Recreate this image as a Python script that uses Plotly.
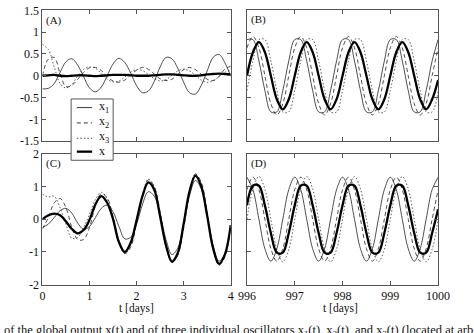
import plotly.graph_objects as go

W, H = 474, 333

# ---------------- data ----------------
t_early = [0.0, 0.125, 0.25, 0.375, 0.5, 0.625, 0.75, 0.875, 1.0, 1.125, 1.25, 1.375,
           1.5, 1.625, 1.75, 1.875, 2.0, 2.125, 2.25, 2.375, 2.5, 2.625, 2.75, 2.875,
           3.0, 3.125, 3.25, 3.375, 3.5, 3.625, 3.75, 3.875, 4.0]
t_late = [996.0, 996.125, 996.25, 996.375, 996.5, 996.625, 996.75, 996.875,
          997.0, 997.125, 997.25, 997.375, 997.5, 997.625, 997.75, 997.875,
          998.0, 998.125, 998.25, 998.375, 998.5, 998.625, 998.75, 998.875,
          999.0, 999.125, 999.25, 999.375, 999.5, 999.625, 999.75, 999.875, 1000.0]

# Panel A
A_x1 = [-0.30, -0.29, -0.18, 0.08, 0.32, 0.39, 0.24, -0.02, -0.28, -0.37, -0.26, 0.00,
        0.27, 0.40, 0.30, 0.06, -0.23, -0.39, -0.35, -0.13, 0.20, 0.42, 0.39, 0.17,
        -0.15, -0.39, -0.42, -0.22, 0.11, 0.42, 0.49, 0.30, -0.01]
A_x2 = [0.00, 0.38, 0.42, 0.05, -0.25, -0.22, -0.08, 0.08, 0.18, 0.19, 0.12, -0.02,
        -0.12, -0.15, -0.10, 0.02, 0.13, 0.19, 0.15, 0.04, -0.07, -0.11, -0.08, 0.03,
        0.14, 0.19, 0.14, 0.03, -0.08, -0.11, -0.02, 0.15, 0.22]
A_x3 = [0.72, 0.60, 0.20, -0.18, -0.28, -0.20, 0.00, 0.15, 0.20, 0.17, 0.05, -0.08,
        -0.14, -0.12, -0.03, 0.08, 0.14, 0.12, 0.03, -0.07, -0.12, -0.09, 0.01, 0.11,
        0.15, 0.11, 0.01, -0.10, -0.15, -0.12, -0.02, 0.08, 0.12]
A_x = [0.00, 0.01, 0.02, 0.00, -0.01, 0.00, 0.01, 0.01, 0.00, -0.01, 0.00, 0.01,
       0.02, 0.02, 0.02, 0.01, 0.00, 0.00, 0.00, 0.01, 0.02, 0.03, 0.03, 0.02,
       0.01, 0.00, 0.00, 0.01, 0.03, 0.04, 0.05, 0.04, 0.03]

# Panel B
B_x1 = [0.83, 0.83, 0.34, -0.34, -0.83, -0.83, -0.34, 0.34,
        0.83, 0.83, 0.34, -0.34, -0.83, -0.83, -0.34, 0.34,
        0.83, 0.83, 0.34, -0.34, -0.83, -0.83, -0.34, 0.34,
        0.83, 0.83, 0.34, -0.34, -0.83, -0.83, -0.34, 0.34, 0.83]
B_x2 = [0.64, 0.90, 0.64, 0.00, -0.64, -0.90, -0.64, 0.00,
        0.64, 0.90, 0.64, 0.00, -0.64, -0.90, -0.64, 0.00,
        0.64, 0.90, 0.64, 0.00, -0.64, -0.90, -0.64, 0.00,
        0.64, 0.90, 0.64, 0.00, -0.64, -0.90, -0.64, 0.00, 0.64]
B_x3 = [-0.34, 0.34, 0.83, 0.83, 0.34, -0.34, -0.83, -0.83,
        -0.34, 0.34, 0.83, 0.83, 0.34, -0.34, -0.83, -0.83,
        -0.34, 0.34, 0.83, 0.83, 0.34, -0.34, -0.83, -0.83,
        -0.34, 0.34, 0.83, 0.83, 0.34, -0.34, -0.83, -0.83, -0.34]
B_x = [0.00, 0.54, 0.77, 0.54, 0.00, -0.54, -0.77, -0.54,
       0.00, 0.54, 0.77, 0.54, 0.00, -0.54, -0.77, -0.54,
       0.00, 0.54, 0.77, 0.54, 0.00, -0.54, -0.77, -0.54,
       0.00, 0.54, 0.77, 0.54, 0.00, -0.54, -0.77, -0.54, -0.10]

# Panel C
C_x1 = [-0.25, -0.15, 0.05, 0.26, 0.33, 0.18, -0.12, -0.31, -0.22, 0.05, 0.33, 0.43,
        0.22, -0.22, -0.60, -0.55, -0.15, 0.45, 0.84, 0.70, 0.15, -0.62, -1.08, -0.88,
        -0.15, 0.72, 1.18, 0.92, 0.10, -0.80, -1.28, -1.05, -0.25]
C_x2 = [-0.30, 0.05, 0.50, 0.63, 0.35, -0.25, -0.62, -0.62, -0.25, 0.40, 0.78, 0.65,
        0.08, -0.65, -1.05, -0.85, -0.12, 0.70, 1.20, 1.00, 0.22, -0.78, -1.32, -1.10,
        -0.28, 0.78, 1.38, 1.12, 0.22, -0.85, -1.40, -1.15, -0.25]
C_x3 = [0.76, 0.68, 0.70, 0.35, -0.15, -0.58, -0.55, -0.25, 0.15, 0.60, 0.82, 0.62,
        0.02, -0.72, -1.05, -0.78, -0.05, 0.75, 1.22, 0.98, 0.15, -0.85, -1.32, -1.08,
        -0.20, 0.85, 1.38, 1.08, 0.12, -0.92, -1.40, -1.12, -0.18]
C_x = [0.00, 0.12, 0.17, 0.12, -0.07, -0.30, -0.43, -0.33, -0.02, 0.45, 0.70, 0.50,
       0.00, -0.70, -1.00, -0.72, -0.03, 0.70, 1.12, 0.90, 0.08, -0.80, -1.29, -1.03,
       -0.14, 0.85, 1.33, 1.00, 0.10, -0.88, -1.36, -1.08, -0.18]

# Panel D
D_x1 = [1.28, 0.90, 0.00, -0.90, -1.28, -0.90, 0.00, 0.90,
        1.28, 0.90, 0.00, -0.90, -1.28, -0.90, 0.00, 0.90,
        1.28, 0.90, 0.00, -0.90, -1.28, -0.90, 0.00, 0.90,
        1.28, 0.90, 0.00, -0.90, -1.28, -0.90, 0.00, 0.90, 1.28]
D_x2 = [0.90, 1.28, 0.90, 0.00, -0.90, -1.28, -0.90, 0.00,
        0.90, 1.28, 0.90, 0.00, -0.90, -1.28, -0.90, 0.00,
        0.90, 1.28, 0.90, 0.00, -0.90, -1.28, -0.90, 0.00,
        0.90, 1.28, 0.90, 0.00, -0.90, -1.28, -0.90, 0.00, 0.90]
D_x3 = [0.00, 0.92, 1.30, 0.92, 0.00, -0.92, -1.30, -0.92,
        0.00, 0.92, 1.30, 0.92, 0.00, -0.92, -1.30, -0.92,
        0.00, 0.92, 1.30, 0.92, 0.00, -0.92, -1.30, -0.92,
        0.00, 0.92, 1.30, 0.92, 0.00, -0.92, -1.30, -0.92, 0.00]
D_x = [0.42, 1.02, 1.02, 0.42, -0.42, -1.02, -1.02, -0.42,
       0.42, 1.02, 1.02, 0.42, -0.42, -1.02, -1.02, -0.42,
       0.42, 1.02, 1.02, 0.42, -0.42, -1.02, -1.02, -0.42,
       0.42, 1.02, 1.02, 0.42, -0.42, -1.02, -1.02, -0.42, 0.30]

series_names = ["x<sub>1</sub>", "x<sub>2</sub>", "x<sub>3</sub>", "x"]
early_ticks = [0, 1, 2, 3, 4]
late_ticks = [996, 997, 998, 999, 1000]
yA_ticks = [-1.5, -1, -0.5, 0, 0.5, 1, 1.5]
yA_text = ["-1.5", "-1", "-0.5", "0", "0.5", "1", "1.5"]
yC_ticks = [-2, -1, 0, 1, 2]
yC_text = ["-2", "-1", "0", "1", "2"]

# ---------------- styling ----------------
FONT = "Liberation Serif"
INK = "#111111"
FRAME = "#555555"
styles = [
    dict(color="#222222", width=0.8, dash="solid"),
    dict(color="#222222", width=0.8, dash="4px,3px"),
    dict(color="#333333", width=0.8, dash="1.5px,2px"),
    dict(color="#000000", width=2.3, dash="solid"),
]
plotly_dash = {"solid": "solid", "4px,3px": "dash", "1.5px,2px": "dot"}

fig = go.Figure()
panels = [
    ("x", "y", t_early, [A_x1, A_x2, A_x3, A_x]),
    ("x2", "y2", t_late, [B_x1, B_x2, B_x3, B_x]),
    ("x3", "y3", t_early, [C_x1, C_x2, C_x3, C_x]),
    ("x4", "y4", t_late, [D_x1, D_x2, D_x3, D_x]),
]
for xa, ya, tt, ys in panels:
    for name, yy, st in zip(series_names, ys, styles):
        fig.add_trace(go.Scatter(
            x=tt, y=yy, mode="lines", name=name, xaxis=xa, yaxis=ya,
            line=dict(color=st["color"], width=st["width"], dash=st["dash"],
                      shape="spline", smoothing=1.0),
            showlegend=False, hoverinfo="skip"))

def px_x(p):
    return p / W

def px_y(p):
    return 1 - p / H

xl_A = [px_x(35), px_x(232)]
xl_B = [px_x(249), px_x(449)]
yd_top = [px_y(140), px_y(3.5)]
yd_bot = [px_y(290), px_y(153)]

base = dict(showline=True, linecolor=FRAME, linewidth=1, mirror="ticks",
            ticks="inside", ticklen=4, tickcolor=FRAME, showgrid=False,
            zeroline=False, tickfont=dict(family=FONT, size=12, color=INK))

fig.update_layout(
    width=W, height=H, margin=dict(l=0, r=0, t=0, b=0),
    paper_bgcolor="white", plot_bgcolor="white",
    font=dict(family=FONT, size=12, color=INK),
    xaxis=dict(base, domain=xl_A, anchor="y", range=[0, 4], tickvals=early_ticks,
               showticklabels=False),
    yaxis=dict(base, domain=yd_top, anchor="x", range=[-1.5, 1.5], tickvals=yA_ticks,
               ticktext=yA_text),
    xaxis2=dict(base, domain=xl_B, anchor="y2", range=[996, 1000], tickvals=late_ticks,
                showticklabels=False),
    yaxis2=dict(base, domain=yd_top, anchor="x2", range=[-1.5, 1.5], tickvals=yA_ticks,
                showticklabels=False),
    xaxis3=dict(base, domain=xl_A, anchor="y3", range=[0, 4], tickvals=early_ticks,
                ticktext=[str(v) for v in early_ticks]),
    yaxis3=dict(base, domain=yd_bot, anchor="x3", range=[-2, 2], tickvals=yC_ticks,
                ticktext=yC_text),
    xaxis4=dict(base, domain=xl_B, anchor="y4", range=[996, 1000], tickvals=late_ticks,
                ticktext=[str(v) for v in late_ticks]),
    yaxis4=dict(base, domain=yd_bot, anchor="x4", range=[-2, 2], tickvals=yC_ticks,
                showticklabels=False),
    showlegend=False,
)

# ---- compact legend box (MATLAB style), drawn in paper pixels ----
LEG_BOX = (65, 96, 109, 160)          # left, top, right, bottom in px
LEG_ROWS = [105, 121, 137, 151]       # row centres in px
LEG_LINE = (71, 87)                   # sample line x-range in px
LEG_TEXT_X = 92
fig.add_shape(type="rect", xref="paper", yref="paper", layer="above",
              x0=px_x(LEG_BOX[0]), x1=px_x(LEG_BOX[2]),
              y0=px_y(LEG_BOX[3]), y1=px_y(LEG_BOX[1]),
              fillcolor="white", line=dict(color=FRAME, width=1))
for name, st, yc in zip(series_names, styles, LEG_ROWS):
    fig.add_shape(type="line", xref="paper", yref="paper", layer="above",
                  x0=px_x(LEG_LINE[0]), x1=px_x(LEG_LINE[1]),
                  y0=px_y(yc), y1=px_y(yc),
                  line=dict(color=st["color"], width=st["width"] if st["width"] > 1 else 0.9,
                            dash=st["dash"]))
    fig.add_annotation(xref="paper", yref="paper", showarrow=False,
                       x=px_x(LEG_TEXT_X), y=px_y(yc - 1), xanchor="left", yanchor="middle",
                       text=name, font=dict(family=FONT, size=12, color=INK))

annotations = [
    dict(text="(A)", x=px_x(37), y=px_y(5), xanchor="left", yanchor="top", size=11),
    dict(text="(B)", x=px_x(251), y=px_y(4), xanchor="left", yanchor="top", size=11),
    dict(text="(C)", x=px_x(37), y=px_y(155), xanchor="left", yanchor="top", size=11),
    dict(text="(D)", x=px_x(251), y=px_y(155), xanchor="left", yanchor="top", size=11),
    dict(text="t [days]", x=px_x(133.5), y=px_y(306), xanchor="center", yanchor="top", size=11.5),
    dict(text="t [days]", x=px_x(347), y=px_y(306), xanchor="center", yanchor="top", size=11.5),
    dict(text="of the global output x(t) and of three individual oscillators x<sub>1</sub>(t), "
              "x<sub>2</sub>(t), and x<sub>3</sub>(t) (located at arbitrary po",
         x=px_x(-7), y=px_y(327.5), xanchor="left", yanchor="top", size=12.5),
]
for a in annotations:
    sz = a.pop("size")
    fig.add_annotation(xref="paper", yref="paper", showarrow=False,
                       font=dict(family=FONT, size=sz, color=INK), **a)

fig.write_html("out.html")
